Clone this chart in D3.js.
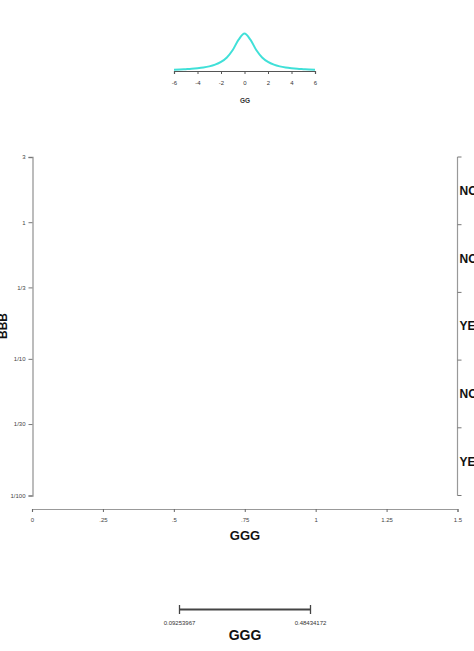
<!DOCTYPE html>
<html>
<head>
<meta charset="utf-8">
<script src="https://cdn.jsdelivr.net/npm/d3@7"></script>
<style>
html,body{margin:0;padding:0;background:#fff;overflow:hidden;}
svg{display:block;font-family:"Liberation Sans",Arial,sans-serif;}
</style>
</head>
<body>
<svg id="chart" width="474" height="651"></svg>
<script>
// ---- data ----
const curveX = [-6,-5.5,-5,-4.5,-4,-3.5,-3,-2.5,-2,-1.5,-1,-0.5,0,0.5,1,1.5,2,2.5,3,3.5,4,4.5,5,5.5,6];
const curveY = [0.034,0.040,0.049,0.059,0.074,0.094,0.124,0.17,0.242,0.362,0.56,0.836,1.0,0.836,0.56,0.362,0.242,0.17,0.124,0.094,0.074,0.059,0.049,0.040,0.034];
const topTicks = [-6,-4,-2,0,2,4,6];
const topTickLabels = ["-6","-4","-2","0","2","4","6"];
const yTickValues = [3,1,1/3,1/10,1/30,1/100];
const yTickLabels = ["3","1","1/3","1/10","1/30","1/100"];
const xTickValues = [0,0.25,0.5,0.75,1,1.25,1.5];
const xTickLabels = ["0",".25",".5",".75","1","1.25","1.5"];
const rowLabels = ["NO","NO","YES","NO","YES"];
const rangeValues = [0.09253967, 0.48434172];

const svg = d3.select("#chart");
svg.append("rect").attr("width",474).attr("height",651).attr("fill","#fff");

// ---- top density curve ----
const tx = d3.scaleLinear().domain([-6,6]).range([174,315]);
const ty = d3.scaleLinear().domain([0,1]).range([71,33.5]);
const topG = svg.append("g");
topG.append("path")
  .datum(curveX.map((x,i)=>[x,curveY[i]]))
  .attr("fill","none").attr("stroke","#40E0D8").attr("stroke-width",2)
  .attr("d", d3.line().x(d=>tx(d[0])).y(d=>ty(d[1])).curve(d3.curveCatmullRom));
const topAxis = topG.append("g").attr("transform","translate(0,71)")
  .call(d3.axisBottom(tx).tickValues(topTicks).tickSize(3).tickPadding(7)
    .tickFormat((d,i)=>topTickLabels[i]));
topAxis.select(".domain").attr("stroke","#555").attr("stroke-width",1.2);
topAxis.selectAll(".tick line").attr("stroke","#555");
topAxis.selectAll("text").attr("font-size",6).attr("fill","#333").attr("font-family","Liberation Sans, Arial, sans-serif");
topG.append("text").attr("x",245).attr("y",102.5).attr("text-anchor","middle")
  .attr("font-size",6.5).attr("font-weight","bold").attr("fill","#333").text("GG");

// ---- main panel ----
const x = d3.scaleLinear().domain([0,1.5]).range([32,457.5]);
const y = d3.scaleLog().domain([1/100,3]).range([495.5,157]);
const axisCol = "#999";

const left = svg.append("g").attr("transform","translate(32.5,0)")
  .call(d3.axisLeft(y).tickValues(yTickValues).tickSizeOuter(0).tickSize(4).tickPadding(3)
    .tickFormat((d,i)=>yTickLabels[i]));
left.select(".domain").attr("stroke",axisCol).attr("stroke-width",1.3);
left.selectAll(".tick line").attr("stroke","#777");
left.selectAll("text").attr("font-size",6).attr("fill","#444").attr("font-family","Liberation Sans, Arial, sans-serif");

const bottom = svg.append("g").attr("transform","translate(0,509)")
  .call(d3.axisBottom(x).tickValues(xTickValues).tickSizeOuter(0).tickSize(3).tickPadding(6)
    .tickFormat((d,i)=>xTickLabels[i]));
bottom.select(".domain").attr("stroke",axisCol).attr("stroke-width",1.2);
bottom.selectAll(".tick line").attr("stroke","#666");
bottom.selectAll("text").attr("font-size",6).attr("fill","#444").attr("font-family","Liberation Sans, Arial, sans-serif");

svg.append("text").attr("x",245).attr("y",540).attr("text-anchor","middle")
  .attr("font-size",13).attr("font-weight","bold").attr("fill","#111").text("GGG");

svg.append("text").attr("transform","translate(6.5,326) rotate(-90)").attr("text-anchor","middle")
  .attr("font-size",12).attr("font-weight","bold").attr("fill","#111").text("BBB");

// right categorical axis
const band = d3.scaleBand().domain(d3.range(rowLabels.length)).range([157,495.5]);
const rightG = svg.append("g");
rightG.append("line").attr("x1",457.5).attr("x2",457.5).attr("y1",band.range()[0]).attr("y2",band.range()[1])
  .attr("stroke",axisCol).attr("stroke-width",1.2);
const bounds = band.domain().map(d=>band(d)).concat([band.range()[1]]);
rightG.selectAll("line.tk").data(bounds).enter().append("line").attr("class","tk")
  .attr("x1",457.5).attr("x2",461.5).attr("y1",d=>d).attr("y2",d=>d)
  .attr("stroke","#777").attr("stroke-width",1);
rightG.selectAll("text").data(rowLabels).enter().append("text")
  .attr("x",459.5).attr("y",(d,i)=>band(i)+band.bandwidth()/2).attr("dy","0.35em")
  .attr("font-size",12).attr("font-weight","bold").attr("fill","#111").text(d=>d);

// ---- bottom range bar ----
const rx = d3.scaleLinear().domain(rangeValues).range([179.5,310.5]);
const rg = svg.append("g");
rg.append("line").attr("x1",rx(rangeValues[0])).attr("x2",rx(rangeValues[1])).attr("y1",609.5).attr("y2",609.5)
  .attr("stroke","#444").attr("stroke-width",2);
rg.selectAll("line.cap").data(rangeValues).enter().append("line").attr("class","cap")
  .attr("x1",d=>rx(d)).attr("x2",d=>rx(d)).attr("y1",605).attr("y2",614)
  .attr("stroke","#444").attr("stroke-width",1.3);
rg.selectAll("text").data(rangeValues).enter().append("text")
  .attr("x",d=>rx(d)).attr("y",625).attr("text-anchor","middle")
  .attr("font-size",6).attr("fill","#333").text(d=>d.toFixed(8));
svg.append("text").attr("x",245).attr("y",640).attr("text-anchor","middle")
  .attr("font-size",14).attr("font-weight","bold").attr("fill","#111").text("GGG");
</script>
</body>
</html>
